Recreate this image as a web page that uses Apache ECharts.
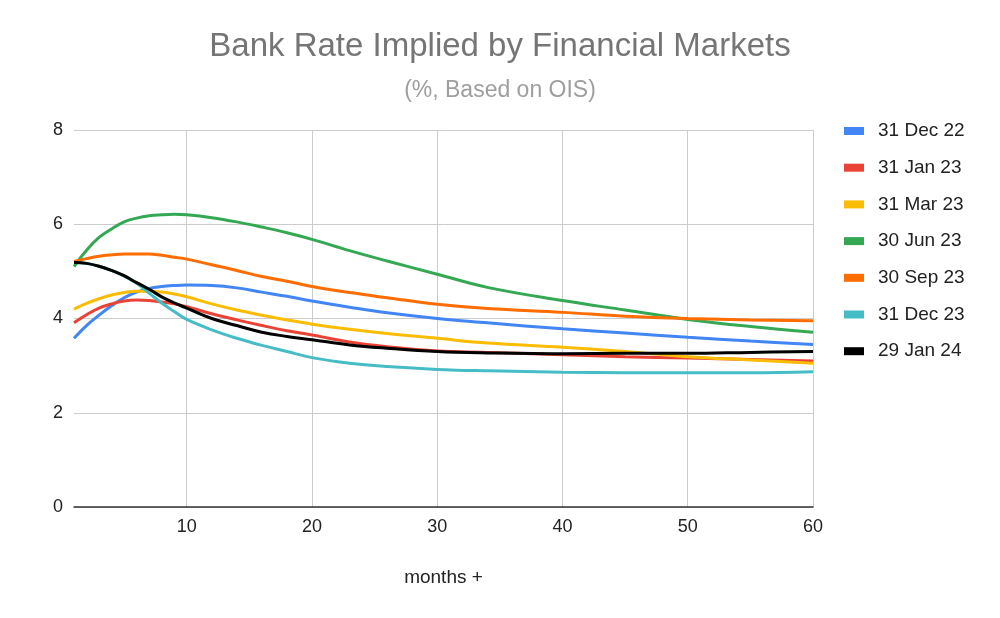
<!DOCTYPE html>
<html>
<head>
<meta charset="utf-8">
<style>
  body, html { margin: 0; padding: 0; width: 100%; height: 100%; overflow: hidden; background: #fff; }
  #chart { width: 1000px; height: 618px; }
</style>
</head>
<body>
<div id="chart"></div>
<script src="https://cdn.jsdelivr.net/npm/echarts@6/dist/echarts.min.js"></script>
<script>
  const months = [1, 2, 3, 4, 5, 6, 7, 8, 9, 10, 12, 14, 16, 18, 20, 23, 26, 30, 34, 40, 45, 50, 55, 60];

  const dec22 = [3.58, 3.85, 4.07, 4.27, 4.44, 4.56, 4.64, 4.68, 4.70, 4.71, 4.70, 4.65, 4.56, 4.47, 4.37, 4.24, 4.12, 4.00, 3.91, 3.78, 3.69, 3.60, 3.52, 3.45];
  const jan23 = [3.91, 4.08, 4.22, 4.31, 4.37, 4.39, 4.38, 4.35, 4.31, 4.25, 4.10, 3.97, 3.85, 3.74, 3.65, 3.50, 3.40, 3.31, 3.28, 3.23, 3.19, 3.16, 3.13, 3.10];
  const mar23 = [4.20, 4.32, 4.42, 4.50, 4.55, 4.58, 4.58, 4.56, 4.52, 4.46, 4.31, 4.18, 4.07, 3.97, 3.88, 3.77, 3.68, 3.58, 3.48, 3.39, 3.30, 3.19, 3.12, 3.05];
  const jun23 = [5.10, 5.45, 5.72, 5.90, 6.05, 6.13, 6.18, 6.20, 6.21, 6.20, 6.14, 6.05, 5.94, 5.82, 5.68, 5.44, 5.22, 4.94, 4.66, 4.38, 4.18, 3.98, 3.83, 3.71];
  const sep23 = [5.21, 5.27, 5.32, 5.35, 5.37, 5.37, 5.37, 5.34, 5.30, 5.26, 5.14, 5.02, 4.89, 4.79, 4.68, 4.55, 4.44, 4.30, 4.21, 4.13, 4.05, 4.00, 3.97, 3.95];
  const dec23 = [5.19, 5.17, 5.11, 5.02, 4.90, 4.75, 4.54, 4.33, 4.15, 3.98, 3.76, 3.58, 3.43, 3.30, 3.17, 3.05, 2.98, 2.92, 2.89, 2.86, 2.85, 2.85, 2.85, 2.87];
  const jan24 = [5.19, 5.17, 5.11, 5.02, 4.91, 4.76, 4.62, 4.46, 4.33, 4.22, 4.00, 3.85, 3.71, 3.62, 3.55, 3.44, 3.37, 3.30, 3.27, 3.25, 3.26, 3.26, 3.28, 3.30];

  const seriesNames = ["31 Dec 22", "31 Jan 23", "31 Mar 23", "30 Jun 23", "30 Sep 23", "31 Dec 23", "29 Jan 24"];
  const seriesValues = [dec22, jan23, mar23, jun23, sep23, dec23, jan24];
  const colors = ["#4285F4", "#EA4335", "#FBBC04", "#34A853", "#FF6D01", "#46BDC6", "#000000"];
  const xTicks = [10, 20, 30, 40, 50, 60];

  const font = "Liberation Sans, Arial, sans-serif";
  const chart = echarts.init(document.getElementById("chart"));

  const option = {
    backgroundColor: "#fff",
    color: colors,
    animation: false,
    title: [
      {
        text: "Bank Rate Implied by Financial Markets",
        left: "center",
        top: 25,
        textStyle: { fontFamily: font, fontSize: 33, fontWeight: "normal", color: "#757575" }
      },
      {
        text: "(%, Based on OIS)",
        left: "center",
        top: 74,
        textStyle: { fontFamily: font, fontSize: 23, fontWeight: "normal", color: "#9e9e9e" }
      }
    ],
    legend: {
      orient: "vertical",
      left: 839,
      top: 116,
      itemWidth: 20,
      itemHeight: 8,
      itemGap: 16.7,
      icon: "rect",
      textStyle: { fontFamily: font, fontSize: 19, lineHeight: 20, color: "#222", padding: [0, 0, 0, 9] },
      data: seriesNames
    },
    grid: { left: 74, right: 187, top: 130, bottom: 111 },
    xAxis: {
      type: "value",
      min: 1,
      max: 60,
      name: "months +",
      nameLocation: "middle",
      nameGap: 61,
      nameTextStyle: { fontFamily: font, fontSize: 19, color: "#222" },
      axisLine: { show: true, lineStyle: { color: "#333", width: 1.5 } },
      axisTick: { show: false, customValues: xTicks },
      axisLabel: { customValues: xTicks, fontFamily: font, fontSize: 18, color: "#222", margin: 11 },
      splitLine: { show: true, lineStyle: { color: "#cccccc", width: 1 } }
    },
    yAxis: {
      type: "value",
      min: 0,
      max: 8,
      interval: 2,
      axisLine: { show: false },
      axisTick: { show: false },
      axisLabel: { fontFamily: font, fontSize: 18, color: "#222", margin: 11 },
      splitLine: { lineStyle: { color: "#cccccc", width: 1 } }
    },
    series: seriesNames.map((name, i) => ({
      name: name,
      type: "line",
      smooth: 0.4,
      showSymbol: false,
      lineStyle: { width: 3, color: colors[i] },
      itemStyle: { color: colors[i] },
      data: months.map((m, j) => [m, seriesValues[i][j]])
    }))
  };

  chart.setOption(option);
</script>
</body>
</html>
